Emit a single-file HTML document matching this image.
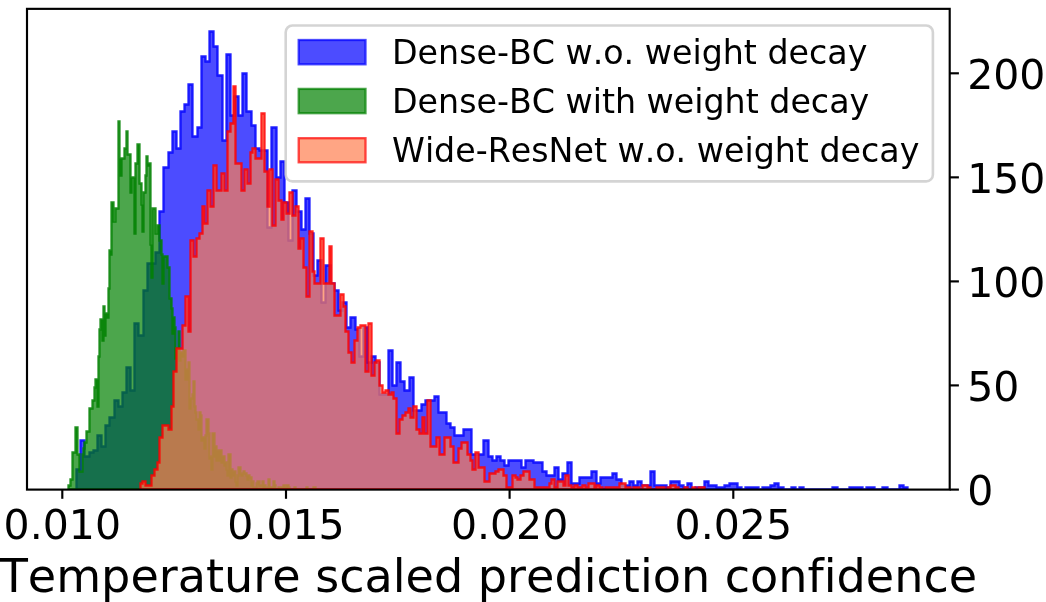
<!DOCTYPE html>
<html><head><meta charset="utf-8"><title>Temperature scaled prediction confidence</title>
<style>html,body{margin:0;padding:0;background:#fff}body{width:1046px;height:602px;overflow:hidden}</style>
</head><body>
<svg width="1046" height="602" viewBox="0 0 1046 602" style="display:block;font-kerning:none;font-variant-ligatures:none;font-feature-settings:&quot;liga&quot; 0, &quot;clig&quot; 0">
<rect width="1046" height="602" fill="#fff"/>
<defs><clipPath id="ax"><rect x="27.0" y="8.85" width="922.7" height="480.75"/></clipPath></defs>
<g clip-path="url(#ax)" stroke-linejoin="miter" stroke-width="2.31">
<path d="M76.50 489.50 L76.50 469.50 L80.50 469.50 L80.50 440.50 L84.50 440.50 L84.50 456.50 L89.50 456.50 L89.50 452.50 L93.50 452.50 L93.50 450.50 L97.50 450.50 L97.50 435.50 L101.50 435.50 L101.50 446.50 L105.50 446.50 L105.50 425.50 L109.50 425.50 L109.50 417.50 L114.50 417.50 L114.50 400.50 L118.50 400.50 L118.50 406.50 L122.50 406.50 L122.50 392.50 L126.50 392.50 L126.50 367.50 L130.50 367.50 L130.50 390.50 L134.50 390.50 L134.50 323.50 L138.50 323.50 L138.50 335.50 L143.50 335.50 L143.50 290.50 L147.50 290.50 L147.50 263.50 L151.50 263.50 L151.50 263.50 L155.50 263.50 L155.50 252.50 L159.50 252.50 L159.50 211.50 L163.50 211.50 L163.50 167.50 L168.50 167.50 L168.50 152.50 L172.50 152.50 L172.50 131.50 L176.50 131.50 L176.50 148.50 L180.50 148.50 L180.50 111.50 L184.50 111.50 L184.50 104.50 L188.50 104.50 L188.50 84.50 L192.50 84.50 L192.50 136.50 L197.50 136.50 L197.50 127.50 L201.50 127.50 L201.50 56.50 L205.50 56.50 L205.50 61.50 L209.50 61.50 L209.50 31.50 L213.50 31.50 L213.50 46.50 L217.50 46.50 L217.50 75.50 L222.50 75.50 L222.50 140.50 L226.50 140.50 L226.50 54.50 L230.50 54.50 L230.50 115.50 L234.50 115.50 L234.50 96.50 L238.50 96.50 L238.50 115.50 L242.50 115.50 L242.50 73.50 L246.50 73.50 L246.50 111.50 L251.50 111.50 L251.50 125.50 L255.50 125.50 L255.50 148.50 L259.50 148.50 L259.50 150.50 L263.50 150.50 L263.50 150.50 L267.50 150.50 L267.50 227.50 L271.50 227.50 L271.50 127.50 L276.50 127.50 L276.50 177.50 L280.50 177.50 L280.50 161.50 L284.50 161.50 L284.50 202.50 L288.50 202.50 L288.50 240.50 L292.50 240.50 L292.50 190.50 L296.50 190.50 L296.50 211.50 L301.50 211.50 L301.50 229.50 L305.50 229.50 L305.50 198.50 L309.50 198.50 L309.50 233.50 L313.50 233.50 L313.50 275.50 L317.50 275.50 L317.50 260.50 L321.50 260.50 L321.50 302.50 L325.50 302.50 L325.50 265.50 L330.50 265.50 L330.50 283.50 L334.50 283.50 L334.50 290.50 L338.50 290.50 L338.50 310.50 L342.50 310.50 L342.50 302.50 L346.50 302.50 L346.50 327.50 L350.50 327.50 L350.50 317.50 L355.50 317.50 L355.50 329.50 L359.50 329.50 L359.50 356.50 L363.50 356.50 L363.50 327.50 L367.50 327.50 L367.50 362.50 L371.50 362.50 L371.50 356.50 L375.50 356.50 L375.50 362.50 L379.50 362.50 L379.50 394.50 L384.50 394.50 L384.50 394.50 L388.50 394.50 L388.50 350.50 L392.50 350.50 L392.50 385.50 L396.50 385.50 L396.50 362.50 L400.50 362.50 L400.50 381.50 L404.50 381.50 L404.50 390.50 L409.50 390.50 L409.50 377.50 L413.50 377.50 L413.50 410.50 L417.50 410.50 L417.50 410.50 L421.50 410.50 L421.50 404.50 L425.50 404.50 L425.50 400.50 L429.50 400.50 L429.50 400.50 L434.50 400.50 L434.50 396.50 L438.50 396.50 L438.50 412.50 L442.50 412.50 L442.50 412.50 L446.50 412.50 L446.50 423.50 L450.50 423.50 L450.50 427.50 L454.50 427.50 L454.50 435.50 L458.50 435.50 L458.50 435.50 L463.50 435.50 L463.50 429.50 L467.50 429.50 L467.50 429.50 L471.50 429.50 L471.50 454.50 L475.50 454.50 L475.50 454.50 L479.50 454.50 L479.50 454.50 L483.50 454.50 L483.50 440.50 L488.50 440.50 L488.50 456.50 L492.50 456.50 L492.50 460.50 L496.50 460.50 L496.50 456.50 L500.50 456.50 L500.50 460.50 L504.50 460.50 L504.50 465.50 L508.50 465.50 L508.50 460.50 L512.50 460.50 L512.50 460.50 L517.50 460.50 L517.50 460.50 L521.50 460.50 L521.50 467.50 L525.50 467.50 L525.50 460.50 L529.50 460.50 L529.50 460.50 L533.50 460.50 L533.50 462.50 L537.50 462.50 L537.50 462.50 L542.50 462.50 L542.50 471.50 L546.50 471.50 L546.50 475.50 L550.50 475.50 L550.50 475.50 L554.50 475.50 L554.50 467.50 L558.50 467.50 L558.50 479.50 L562.50 479.50 L562.50 473.50 L567.50 473.50 L567.50 462.50 L571.50 462.50 L571.50 483.50 L575.50 483.50 L575.50 483.50 L579.50 483.50 L579.50 477.50 L583.50 477.50 L583.50 477.50 L587.50 477.50 L587.50 477.50 L591.50 477.50 L591.50 471.50 L596.50 471.50 L596.50 483.50 L600.50 483.50 L600.50 477.50 L604.50 477.50 L604.50 477.50 L608.50 477.50 L608.50 477.50 L612.50 477.50 L612.50 473.50 L616.50 473.50 L616.50 479.50 L621.50 479.50 L621.50 485.50 L625.50 485.50 L625.50 485.50 L629.50 485.50 L629.50 481.50 L633.50 481.50 L633.50 485.50 L637.50 485.50 L637.50 481.50 L641.50 481.50 L641.50 485.50 L645.50 485.50 L645.50 485.50 L650.50 485.50 L650.50 471.50 L654.50 471.50 L654.50 485.50 L658.50 485.50 L658.50 485.50 L662.50 485.50 L662.50 485.50 L666.50 485.50 L666.50 487.50 L670.50 487.50 L670.50 481.50 L675.50 481.50 L675.50 481.50 L679.50 481.50 L679.50 485.50 L683.50 485.50 L683.50 487.50 L687.50 487.50 L687.50 483.50 L691.50 483.50 L691.50 490.50 L695.50 490.50 L695.50 487.50 L700.50 487.50 L700.50 487.50 L704.50 487.50 L704.50 481.50 L708.50 481.50 L708.50 485.50 L712.50 485.50 L712.50 485.50 L716.50 485.50 L716.50 487.50 L720.50 487.50 L720.50 487.50 L724.50 487.50 L724.50 485.50 L729.50 485.50 L729.50 483.50 L733.50 483.50 L733.50 483.50 L737.50 483.50 L737.50 487.50 L741.50 487.50 L741.50 490.50 L745.50 490.50 L745.50 487.50 L749.50 487.50 L749.50 487.50 L754.50 487.50 L754.50 487.50 L758.50 487.50 L758.50 490.50 L762.50 490.50 L762.50 487.50 L766.50 487.50 L766.50 487.50 L770.50 487.50 L770.50 485.50 L774.50 485.50 L774.50 483.50 L778.50 483.50 L778.50 487.50 L783.50 487.50 L783.50 490.50 L787.50 490.50 L787.50 490.50 L791.50 490.50 L791.50 487.50 L795.50 487.50 L795.50 490.50 L799.50 490.50 L799.50 487.50 L803.50 487.50 L803.50 490.50 L808.50 490.50 L808.50 490.50 L812.50 490.50 L812.50 490.50 L816.50 490.50 L816.50 490.50 L820.50 490.50 L820.50 490.50 L824.50 490.50 L824.50 490.50 L828.50 490.50 L828.50 490.50 L832.50 490.50 L832.50 487.50 L837.50 487.50 L837.50 490.50 L841.50 490.50 L841.50 490.50 L845.50 490.50 L845.50 490.50 L849.50 490.50 L849.50 487.50 L853.50 487.50 L853.50 487.50 L857.50 487.50 L857.50 487.50 L862.50 487.50 L862.50 490.50 L866.50 490.50 L866.50 487.50 L870.50 487.50 L870.50 487.50 L874.50 487.50 L874.50 490.50 L878.50 490.50 L878.50 490.50 L882.50 490.50 L882.50 487.50 L887.50 487.50 L887.50 490.50 L891.50 490.50 L891.50 490.50 L895.50 490.50 L895.50 490.50 L899.50 490.50 L899.50 485.50 L903.50 485.50 L903.50 487.50 L907.50 487.50 L907.50 489.50 Z" fill="#0000ff" fill-opacity="0.7" stroke="#0000ff" stroke-opacity="0.85"/>
<path d="M68.50 489.50 L68.50 485.50 L70.50 485.50 L70.50 479.50 L71.50 479.50 L71.50 479.50 L72.50 479.50 L72.50 452.50 L73.50 452.50 L73.50 452.50 L75.50 452.50 L75.50 427.50 L76.50 427.50 L76.50 427.50 L77.50 427.50 L77.50 454.50 L78.50 454.50 L78.50 454.50 L79.50 454.50 L79.50 471.50 L81.50 471.50 L81.50 471.50 L82.50 471.50 L82.50 454.50 L83.50 454.50 L83.50 448.50 L84.50 448.50 L84.50 442.50 L86.50 442.50 L86.50 431.50 L87.50 431.50 L87.50 431.50 L88.50 431.50 L88.50 431.50 L89.50 431.50 L89.50 408.50 L91.50 408.50 L91.50 408.50 L92.50 408.50 L92.50 400.50 L93.50 400.50 L93.50 400.50 L94.50 400.50 L94.50 387.50 L95.50 387.50 L95.50 379.50 L97.50 379.50 L97.50 379.50 L98.50 379.50 L98.50 356.50 L99.50 356.50 L99.50 329.50 L100.50 329.50 L100.50 319.50 L102.50 319.50 L102.50 319.50 L103.50 319.50 L103.50 306.50 L104.50 306.50 L104.50 313.50 L105.50 313.50 L105.50 313.50 L107.50 313.50 L107.50 313.50 L108.50 313.50 L108.50 288.50 L109.50 288.50 L109.50 250.50 L110.50 250.50 L110.50 250.50 L111.50 250.50 L111.50 202.50 L113.50 202.50 L113.50 221.50 L114.50 221.50 L114.50 221.50 L115.50 221.50 L115.50 208.50 L116.50 208.50 L116.50 208.50 L118.50 208.50 L118.50 121.50 L119.50 121.50 L119.50 158.50 L120.50 158.50 L120.50 158.50 L121.50 158.50 L121.50 158.50 L123.50 158.50 L123.50 158.50 L124.50 158.50 L124.50 148.50 L125.50 148.50 L125.50 148.50 L126.50 148.50 L126.50 131.50 L127.50 131.50 L127.50 154.50 L129.50 154.50 L129.50 154.50 L130.50 154.50 L130.50 177.50 L131.50 177.50 L131.50 177.50 L132.50 177.50 L132.50 177.50 L134.50 177.50 L134.50 177.50 L135.50 177.50 L135.50 163.50 L136.50 163.50 L136.50 163.50 L137.50 163.50 L137.50 144.50 L139.50 144.50 L139.50 183.50 L140.50 183.50 L140.50 183.50 L141.50 183.50 L141.50 204.50 L142.50 204.50 L142.50 204.50 L143.50 204.50 L143.50 192.50 L145.50 192.50 L145.50 175.50 L146.50 175.50 L146.50 156.50 L147.50 156.50 L147.50 163.50 L148.50 163.50 L148.50 163.50 L150.50 163.50 L150.50 244.50 L151.50 244.50 L151.50 244.50 L152.50 244.50 L152.50 208.50 L153.50 208.50 L153.50 208.50 L155.50 208.50 L155.50 233.50 L156.50 233.50 L156.50 233.50 L157.50 233.50 L157.50 225.50 L158.50 225.50 L158.50 225.50 L159.50 225.50 L159.50 240.50 L161.50 240.50 L161.50 254.50 L162.50 254.50 L162.50 256.50 L163.50 256.50 L163.50 256.50 L164.50 256.50 L164.50 256.50 L166.50 256.50 L166.50 256.50 L167.50 256.50 L167.50 267.50 L168.50 267.50 L168.50 267.50 L169.50 267.50 L169.50 298.50 L171.50 298.50 L171.50 308.50 L172.50 308.50 L172.50 317.50 L173.50 317.50 L173.50 317.50 L174.50 317.50 L174.50 327.50 L175.50 327.50 L175.50 348.50 L177.50 348.50 L177.50 348.50 L178.50 348.50 L178.50 331.50 L179.50 331.50 L179.50 352.50 L180.50 352.50 L180.50 352.50 L182.50 352.50 L182.50 352.50 L183.50 352.50 L183.50 350.50 L184.50 350.50 L184.50 350.50 L185.50 350.50 L185.50 369.50 L187.50 369.50 L187.50 369.50 L188.50 369.50 L188.50 362.50 L189.50 362.50 L189.50 398.50 L190.50 398.50 L190.50 398.50 L192.50 398.50 L192.50 394.50 L193.50 394.50 L193.50 381.50 L194.50 381.50 L194.50 406.50 L195.50 406.50 L195.50 412.50 L196.50 412.50 L196.50 419.50 L198.50 419.50 L198.50 419.50 L199.50 419.50 L199.50 412.50 L200.50 412.50 L200.50 415.50 L201.50 415.50 L201.50 437.50 L203.50 437.50 L203.50 437.50 L204.50 437.50 L204.50 437.50 L205.50 437.50 L205.50 435.50 L206.50 435.50 L206.50 419.50 L208.50 419.50 L208.50 433.50 L209.50 433.50 L209.50 456.50 L210.50 456.50 L210.50 456.50 L211.50 456.50 L211.50 456.50 L212.50 456.50 L212.50 433.50 L214.50 433.50 L214.50 446.50 L215.50 446.50 L215.50 446.50 L216.50 446.50 L216.50 450.50 L217.50 450.50 L217.50 450.50 L219.50 450.50 L219.50 450.50 L220.50 450.50 L220.50 450.50 L221.50 450.50 L221.50 456.50 L222.50 456.50 L222.50 456.50 L224.50 456.50 L224.50 462.50 L225.50 462.50 L225.50 462.50 L226.50 462.50 L226.50 469.50 L227.50 469.50 L227.50 469.50 L228.50 469.50 L228.50 454.50 L230.50 454.50 L230.50 469.50 L231.50 469.50 L231.50 469.50 L232.50 469.50 L232.50 471.50 L233.50 471.50 L233.50 471.50 L235.50 471.50 L235.50 481.50 L236.50 481.50 L236.50 481.50 L237.50 481.50 L237.50 475.50 L238.50 475.50 L238.50 467.50 L240.50 467.50 L240.50 473.50 L241.50 473.50 L241.50 473.50 L242.50 473.50 L242.50 473.50 L243.50 473.50 L243.50 471.50 L244.50 471.50 L244.50 473.50 L246.50 473.50 L246.50 475.50 L247.50 475.50 L247.50 475.50 L248.50 475.50 L248.50 475.50 L249.50 475.50 L249.50 477.50 L251.50 477.50 L251.50 481.50 L252.50 481.50 L252.50 481.50 L253.50 481.50 L253.50 487.50 L254.50 487.50 L254.50 487.50 L256.50 487.50 L256.50 483.50 L257.50 483.50 L257.50 481.50 L258.50 481.50 L258.50 481.50 L259.50 481.50 L259.50 485.50 L260.50 485.50 L260.50 485.50 L262.50 485.50 L262.50 481.50 L263.50 481.50 L263.50 485.50 L264.50 485.50 L264.50 485.50 L265.50 485.50 L265.50 487.50 L267.50 487.50 L267.50 487.50 L268.50 487.50 L268.50 479.50 L269.50 479.50 L269.50 487.50 L270.50 487.50 L270.50 487.50 L272.50 487.50 L272.50 487.50 L273.50 487.50 L273.50 481.50 L274.50 481.50 L274.50 485.50 L275.50 485.50 L275.50 490.50 L276.50 490.50 L276.50 490.50 L278.50 490.50 L278.50 487.50 L279.50 487.50 L279.50 490.50 L280.50 490.50 L280.50 490.50 L281.50 490.50 L281.50 487.50 L283.50 487.50 L283.50 485.50 L284.50 485.50 L284.50 487.50 L285.50 487.50 L285.50 487.50 L286.50 487.50 L286.50 485.50 L288.50 485.50 L288.50 487.50 L289.50 487.50 L289.50 490.50 L290.50 490.50 L290.50 490.50 L291.50 490.50 L291.50 490.50 L292.50 490.50 L292.50 490.50 L294.50 490.50 L294.50 487.50 L295.50 487.50 L295.50 490.50 L296.50 490.50 L296.50 490.50 L297.50 490.50 L297.50 490.50 L299.50 490.50 L299.50 490.50 L300.50 490.50 L300.50 490.50 L301.50 490.50 L301.50 490.50 L302.50 490.50 L302.50 490.50 L304.50 490.50 L304.50 490.50 L305.50 490.50 L305.50 490.50 L306.50 490.50 L306.50 487.50 L307.50 487.50 L307.50 490.50 L308.50 490.50 L308.50 490.50 L310.50 490.50 L310.50 490.50 L311.50 490.50 L311.50 490.50 L312.50 490.50 L312.50 490.50 L313.50 490.50 L313.50 487.50 L315.50 487.50 L315.50 489.50 Z" fill="#008000" fill-opacity="0.7" stroke="none"/>
<path d="M68.50 489.50 L68.50 485.50 L70.50 485.50 L70.50 479.50 L71.50 479.50 L71.50 479.50 L72.50 479.50 L72.50 452.50 L73.50 452.50 L73.50 452.50 L75.50 452.50 L75.50 427.50 L76.50 427.50 L76.50 427.50 L77.50 427.50 L77.50 454.50 L78.50 454.50 L78.50 454.50 L79.50 454.50 L79.50 471.50 L81.50 471.50 L81.50 471.50 L82.50 471.50 L82.50 454.50 L83.50 454.50 L83.50 448.50 L84.50 448.50 L84.50 442.50 L86.50 442.50 L86.50 431.50 L87.50 431.50 L87.50 431.50 L88.50 431.50 L88.50 431.50 L89.50 431.50 L89.50 408.50 L91.50 408.50 L91.50 408.50 L92.50 408.50 L92.50 400.50 L93.50 400.50 L93.50 400.50 L94.50 400.50 L94.50 387.50 L95.50 387.50 L95.50 379.50 L97.50 379.50 L97.50 406.50 L98.50 406.50 L98.50 356.50 L99.50 356.50 L99.50 329.50 L100.50 329.50 L100.50 319.50 L102.50 319.50 L102.50 340.50 L103.50 340.50 L103.50 306.50 L104.50 306.50 L104.50 335.50 L105.50 335.50 L105.50 313.50 L107.50 313.50 L107.50 317.50 L108.50 317.50 L108.50 288.50 L109.50 288.50 L109.50 250.50 L110.50 250.50 L110.50 254.50 L111.50 254.50 L111.50 202.50 L113.50 202.50 L113.50 221.50 L114.50 221.50 L114.50 221.50 L115.50 221.50 L115.50 208.50 L116.50 208.50 L116.50 208.50 L118.50 208.50 L118.50 121.50 L119.50 121.50 L119.50 158.50 L120.50 158.50 L120.50 175.50 L121.50 175.50 L121.50 158.50 L123.50 158.50 L123.50 158.50 L124.50 158.50 L124.50 148.50 L125.50 148.50 L125.50 148.50 L126.50 148.50 L126.50 131.50 L127.50 131.50 L127.50 154.50 L129.50 154.50 L129.50 154.50 L130.50 154.50 L130.50 192.50 L131.50 192.50 L131.50 177.50 L132.50 177.50 L132.50 177.50 L134.50 177.50 L134.50 233.50 L135.50 233.50 L135.50 163.50 L136.50 163.50 L136.50 163.50 L137.50 163.50 L137.50 144.50 L139.50 144.50 L139.50 183.50 L140.50 183.50 L140.50 183.50 L141.50 183.50 L141.50 204.50 L142.50 204.50 L142.50 231.50 L143.50 231.50 L143.50 192.50 L145.50 192.50 L145.50 175.50 L146.50 175.50 L146.50 156.50 L147.50 156.50 L147.50 165.50 L148.50 165.50 L148.50 163.50 L150.50 163.50 L150.50 244.50 L151.50 244.50 L151.50 277.50 L152.50 277.50 L152.50 208.50 L153.50 208.50 L153.50 208.50 L155.50 208.50 L155.50 233.50 L156.50 233.50 L156.50 233.50 L157.50 233.50 L157.50 225.50 L158.50 225.50 L158.50 225.50 L159.50 225.50 L159.50 240.50 L161.50 240.50 L161.50 254.50 L162.50 254.50 L162.50 283.50 L163.50 283.50 L163.50 256.50 L164.50 256.50 L164.50 256.50 L166.50 256.50 L166.50 256.50 L167.50 256.50 L167.50 267.50 L168.50 267.50 L168.50 267.50 L169.50 267.50 L169.50 298.50 L171.50 298.50 L171.50 308.50 L172.50 308.50 L172.50 333.50 L173.50 333.50 L173.50 317.50 L174.50 317.50 L174.50 327.50 L175.50 327.50 L175.50 358.50 L177.50 358.50 L177.50 348.50 L178.50 348.50 L178.50 331.50 L179.50 331.50 L179.50 360.50 L180.50 360.50 L180.50 352.50 L182.50 352.50 L182.50 356.50 L183.50 356.50 L183.50 350.50 L184.50 350.50 L184.50 350.50 L185.50 350.50 L185.50 379.50 L187.50 379.50 L187.50 369.50 L188.50 369.50 L188.50 362.50 L189.50 362.50 L189.50 408.50 L190.50 408.50 L190.50 398.50 L192.50 398.50 L192.50 394.50 L193.50 394.50 L193.50 381.50 L194.50 381.50 L194.50 406.50 L195.50 406.50 L195.50 412.50 L196.50 412.50 L196.50 419.50 L198.50 419.50 L198.50 429.50 L199.50 429.50 L199.50 412.50 L200.50 412.50 L200.50 415.50 L201.50 415.50 L201.50 440.50 L203.50 440.50 L203.50 437.50 L204.50 437.50 L204.50 448.50 L205.50 448.50 L205.50 435.50 L206.50 435.50 L206.50 419.50 L208.50 419.50 L208.50 433.50 L209.50 433.50 L209.50 458.50 L210.50 458.50 L210.50 456.50 L211.50 456.50 L211.50 469.50 L212.50 469.50 L212.50 433.50 L214.50 433.50 L214.50 456.50 L215.50 456.50 L215.50 446.50 L216.50 446.50 L216.50 460.50 L217.50 460.50 L217.50 450.50 L219.50 450.50 L219.50 460.50 L220.50 460.50 L220.50 450.50 L221.50 450.50 L221.50 462.50 L222.50 462.50 L222.50 456.50 L224.50 456.50 L224.50 465.50 L225.50 465.50 L225.50 462.50 L226.50 462.50 L226.50 469.50 L227.50 469.50 L227.50 475.50 L228.50 475.50 L228.50 454.50 L230.50 454.50 L230.50 477.50 L231.50 477.50 L231.50 469.50 L232.50 469.50 L232.50 475.50 L233.50 475.50 L233.50 471.50 L235.50 471.50 L235.50 481.50 L236.50 481.50 L236.50 485.50 L237.50 485.50 L237.50 475.50 L238.50 475.50 L238.50 467.50 L240.50 467.50 L240.50 473.50 L241.50 473.50 L241.50 475.50 L242.50 475.50 L242.50 473.50 L243.50 473.50 L243.50 471.50 L244.50 471.50 L244.50 473.50 L246.50 473.50 L246.50 475.50 L247.50 475.50 L247.50 479.50 L248.50 479.50 L248.50 475.50 L249.50 475.50 L249.50 477.50 L251.50 477.50 L251.50 485.50 L252.50 485.50 L252.50 481.50 L253.50 481.50 L253.50 487.50 L254.50 487.50 L254.50 487.50 L256.50 487.50 L256.50 483.50 L257.50 483.50 L257.50 481.50 L258.50 481.50 L258.50 481.50 L259.50 481.50 L259.50 485.50 L260.50 485.50 L260.50 485.50 L262.50 485.50 L262.50 481.50 L263.50 481.50 L263.50 487.50 L264.50 487.50 L264.50 485.50 L265.50 485.50 L265.50 490.50 L267.50 490.50 L267.50 487.50 L268.50 487.50 L268.50 479.50 L269.50 479.50 L269.50 490.50 L270.50 490.50 L270.50 487.50 L272.50 487.50 L272.50 490.50 L273.50 490.50 L273.50 481.50 L274.50 481.50 L274.50 485.50 L275.50 485.50 L275.50 490.50 L276.50 490.50 L276.50 490.50 L278.50 490.50 L278.50 487.50 L279.50 487.50 L279.50 490.50 L280.50 490.50 L280.50 490.50 L281.50 490.50 L281.50 487.50 L283.50 487.50 L283.50 485.50 L284.50 485.50 L284.50 487.50 L285.50 487.50 L285.50 490.50 L286.50 490.50 L286.50 485.50 L288.50 485.50 L288.50 487.50 L289.50 487.50 L289.50 490.50 L290.50 490.50 L290.50 490.50 L291.50 490.50 L291.50 490.50 L292.50 490.50 L292.50 490.50 L294.50 490.50 L294.50 487.50 L295.50 487.50 L295.50 490.50 L296.50 490.50 L296.50 490.50 L297.50 490.50 L297.50 490.50 L299.50 490.50 L299.50 490.50 L300.50 490.50 L300.50 490.50 L301.50 490.50 L301.50 490.50 L302.50 490.50 L302.50 490.50 L304.50 490.50 L304.50 490.50 L305.50 490.50 L305.50 490.50 L306.50 490.50 L306.50 487.50 L307.50 487.50 L307.50 490.50 L308.50 490.50 L308.50 490.50 L310.50 490.50 L310.50 490.50 L311.50 490.50 L311.50 490.50 L312.50 490.50 L312.50 490.50 L313.50 490.50 L313.50 487.50 L315.50 487.50 L315.50 489.50 Z" fill="none" stroke="#008000" stroke-opacity="0.85"/>
<path d="M140.50 489.50 L140.50 483.50 L142.50 483.50 L142.50 481.50 L145.50 481.50 L145.50 485.50 L148.50 485.50 L148.50 485.50 L151.50 485.50 L151.50 475.50 L154.50 475.50 L154.50 469.50 L157.50 469.50 L157.50 462.50 L159.50 462.50 L159.50 437.50 L162.50 437.50 L162.50 425.50 L165.50 425.50 L165.50 425.50 L168.50 425.50 L168.50 429.50 L171.50 429.50 L171.50 406.50 L173.50 406.50 L173.50 371.50 L176.50 371.50 L176.50 348.50 L179.50 348.50 L179.50 348.50 L182.50 348.50 L182.50 325.50 L185.50 325.50 L185.50 296.50 L188.50 296.50 L188.50 331.50 L190.50 331.50 L190.50 240.50 L193.50 240.50 L193.50 256.50 L196.50 256.50 L196.50 238.50 L199.50 238.50 L199.50 233.50 L202.50 233.50 L202.50 206.50 L204.50 206.50 L204.50 223.50 L207.50 223.50 L207.50 190.50 L210.50 190.50 L210.50 206.50 L213.50 206.50 L213.50 165.50 L216.50 165.50 L216.50 190.50 L219.50 190.50 L219.50 190.50 L221.50 190.50 L221.50 173.50 L224.50 173.50 L224.50 190.50 L227.50 190.50 L227.50 131.50 L230.50 131.50 L230.50 123.50 L233.50 123.50 L233.50 86.50 L235.50 86.50 L235.50 163.50 L238.50 163.50 L238.50 163.50 L241.50 163.50 L241.50 190.50 L244.50 190.50 L244.50 169.50 L247.50 169.50 L247.50 183.50 L250.50 183.50 L250.50 152.50 L252.50 152.50 L252.50 148.50 L255.50 148.50 L255.50 158.50 L258.50 158.50 L258.50 158.50 L261.50 158.50 L261.50 113.50 L264.50 113.50 L264.50 171.50 L267.50 171.50 L267.50 206.50 L269.50 206.50 L269.50 169.50 L272.50 169.50 L272.50 225.50 L275.50 225.50 L275.50 179.50 L278.50 179.50 L278.50 200.50 L281.50 200.50 L281.50 219.50 L283.50 219.50 L283.50 202.50 L286.50 202.50 L286.50 213.50 L289.50 213.50 L289.50 192.50 L292.50 192.50 L292.50 215.50 L295.50 215.50 L295.50 206.50 L298.50 206.50 L298.50 248.50 L300.50 248.50 L300.50 238.50 L303.50 238.50 L303.50 267.50 L306.50 267.50 L306.50 296.50 L309.50 296.50 L309.50 231.50 L312.50 231.50 L312.50 271.50 L314.50 271.50 L314.50 283.50 L317.50 283.50 L317.50 283.50 L320.50 283.50 L320.50 238.50 L323.50 238.50 L323.50 283.50 L326.50 283.50 L326.50 283.50 L329.50 283.50 L329.50 246.50 L331.50 246.50 L331.50 283.50 L334.50 283.50 L334.50 315.50 L337.50 315.50 L337.50 315.50 L340.50 315.50 L340.50 294.50 L343.50 294.50 L343.50 306.50 L345.50 306.50 L345.50 331.50 L348.50 331.50 L348.50 352.50 L351.50 352.50 L351.50 362.50 L354.50 362.50 L354.50 340.50 L357.50 340.50 L357.50 327.50 L360.50 327.50 L360.50 325.50 L362.50 325.50 L362.50 325.50 L365.50 325.50 L365.50 371.50 L368.50 371.50 L368.50 323.50 L371.50 323.50 L371.50 375.50 L374.50 375.50 L374.50 362.50 L376.50 362.50 L376.50 360.50 L379.50 360.50 L379.50 385.50 L382.50 385.50 L382.50 392.50 L385.50 392.50 L385.50 390.50 L388.50 390.50 L388.50 394.50 L391.50 394.50 L391.50 392.50 L393.50 392.50 L393.50 398.50 L396.50 398.50 L396.50 433.50 L399.50 433.50 L399.50 419.50 L402.50 419.50 L402.50 415.50 L405.50 415.50 L405.50 412.50 L408.50 412.50 L408.50 408.50 L410.50 408.50 L410.50 417.50 L413.50 417.50 L413.50 406.50 L416.50 406.50 L416.50 429.50 L419.50 429.50 L419.50 433.50 L422.50 433.50 L422.50 417.50 L424.50 417.50 L424.50 433.50 L427.50 433.50 L427.50 400.50 L430.50 400.50 L430.50 446.50 L433.50 446.50 L433.50 446.50 L436.50 446.50 L436.50 437.50 L439.50 437.50 L439.50 454.50 L441.50 454.50 L441.50 454.50 L444.50 454.50 L444.50 437.50 L447.50 437.50 L447.50 437.50 L450.50 437.50 L450.50 446.50 L453.50 446.50 L453.50 462.50 L455.50 462.50 L455.50 462.50 L458.50 462.50 L458.50 448.50 L461.50 448.50 L461.50 442.50 L464.50 442.50 L464.50 442.50 L467.50 442.50 L467.50 454.50 L470.50 454.50 L470.50 460.50 L472.50 460.50 L472.50 469.50 L475.50 469.50 L475.50 452.50 L478.50 452.50 L478.50 467.50 L481.50 467.50 L481.50 467.50 L484.50 467.50 L484.50 481.50 L486.50 481.50 L486.50 481.50 L489.50 481.50 L489.50 473.50 L492.50 473.50 L492.50 473.50 L495.50 473.50 L495.50 471.50 L498.50 471.50 L498.50 469.50 L501.50 469.50 L501.50 469.50 L503.50 469.50 L503.50 475.50 L506.50 475.50 L506.50 487.50 L509.50 487.50 L509.50 487.50 L512.50 487.50 L512.50 475.50 L515.50 475.50 L515.50 477.50 L517.50 477.50 L517.50 479.50 L520.50 479.50 L520.50 475.50 L523.50 475.50 L523.50 471.50 L526.50 471.50 L526.50 471.50 L529.50 471.50 L529.50 479.50 L532.50 479.50 L532.50 479.50 L534.50 479.50 L534.50 487.50 L537.50 487.50 L537.50 487.50 L540.50 487.50 L540.50 487.50 L543.50 487.50 L543.50 487.50 L546.50 487.50 L546.50 487.50 L549.50 487.50 L549.50 483.50 L551.50 483.50 L551.50 479.50 L554.50 479.50 L554.50 487.50 L557.50 487.50 L557.50 481.50 L560.50 481.50 L560.50 481.50 L563.50 481.50 L563.50 485.50 L565.50 485.50 L565.50 475.50 L568.50 475.50 L568.50 485.50 L571.50 485.50 L571.50 487.50 L574.50 487.50 L574.50 485.50 L577.50 485.50 L577.50 487.50 L580.50 487.50 L580.50 487.50 L582.50 487.50 L582.50 485.50 L585.50 485.50 L585.50 487.50 L588.50 487.50 L588.50 483.50 L591.50 483.50 L591.50 483.50 L594.50 483.50 L594.50 487.50 L596.50 487.50 L596.50 485.50 L599.50 485.50 L599.50 487.50 L602.50 487.50 L602.50 490.50 L605.50 490.50 L605.50 487.50 L608.50 487.50 L608.50 487.50 L611.50 487.50 L611.50 487.50 L613.50 487.50 L613.50 487.50 L616.50 487.50 L616.50 487.50 L619.50 487.50 L619.50 483.50 L622.50 483.50 L622.50 483.50 L625.50 483.50 L625.50 487.50 L627.50 487.50 L627.50 487.50 L630.50 487.50 L630.50 490.50 L633.50 490.50 L633.50 487.50 L636.50 487.50 L636.50 487.50 L639.50 487.50 L639.50 490.50 L642.50 490.50 L642.50 485.50 L644.50 485.50 L644.50 485.50 L647.50 485.50 L647.50 487.50 L650.50 487.50 L650.50 490.50 L653.50 490.50 L653.50 490.50 L656.50 490.50 L656.50 487.50 L658.50 487.50 L658.50 487.50 L661.50 487.50 L661.50 487.50 L664.50 487.50 L664.50 490.50 L667.50 490.50 L667.50 487.50 L670.50 487.50 L670.50 485.50 L673.50 485.50 L673.50 485.50 L675.50 485.50 L675.50 487.50 L678.50 487.50 L678.50 490.50 L681.50 490.50 L681.50 490.50 L684.50 490.50 L684.50 487.50 L687.50 487.50 L687.50 490.50 L690.50 490.50 L690.50 490.50 L692.50 490.50 L692.50 487.50 L695.50 487.50 L695.50 490.50 L698.50 490.50 L698.50 487.50 L701.50 487.50 L701.50 487.50 L704.50 487.50 L704.50 489.50 Z" fill="#ff7f50" fill-opacity="0.7" stroke="#ff0000" stroke-opacity="0.85"/>
</g>
<rect x="27.0" y="8.85" width="922.7" height="480.75" fill="none" stroke="#000" stroke-width="2.15"/>
<line x1="62.3" y1="489.6" x2="62.3" y2="498.8" stroke="#000" stroke-width="2.15"/>
<text x="62.3" y="538.8" font-size="41" text-anchor="middle" font-family="'DejaVu Sans', 'Liberation Sans', sans-serif">0.010</text>
<line x1="286.0" y1="489.6" x2="286.0" y2="498.8" stroke="#000" stroke-width="2.15"/>
<text x="286.0" y="538.8" font-size="41" text-anchor="middle" font-family="'DejaVu Sans', 'Liberation Sans', sans-serif">0.015</text>
<line x1="509.6" y1="489.6" x2="509.6" y2="498.8" stroke="#000" stroke-width="2.15"/>
<text x="509.6" y="538.8" font-size="41" text-anchor="middle" font-family="'DejaVu Sans', 'Liberation Sans', sans-serif">0.020</text>
<line x1="733.3" y1="489.6" x2="733.3" y2="498.8" stroke="#000" stroke-width="2.15"/>
<text x="733.3" y="538.8" font-size="41" text-anchor="middle" font-family="'DejaVu Sans', 'Liberation Sans', sans-serif">0.025</text>
<line x1="949.7" y1="489.6" x2="958.9000000000001" y2="489.6" stroke="#000" stroke-width="2.15"/>
<text x="967.2" y="505.20000000000005" font-size="41" text-anchor="start" font-family="'DejaVu Sans', 'Liberation Sans', sans-serif">0</text>
<line x1="949.7" y1="385.4" x2="958.9000000000001" y2="385.4" stroke="#000" stroke-width="2.15"/>
<text x="967.2" y="401.0" font-size="41" text-anchor="start" font-family="'DejaVu Sans', 'Liberation Sans', sans-serif">50</text>
<line x1="949.7" y1="281.4" x2="958.9000000000001" y2="281.4" stroke="#000" stroke-width="2.15"/>
<text x="967.2" y="297.0" font-size="41" text-anchor="start" font-family="'DejaVu Sans', 'Liberation Sans', sans-serif">100</text>
<line x1="949.7" y1="177.35" x2="958.9000000000001" y2="177.35" stroke="#000" stroke-width="2.15"/>
<text x="967.2" y="192.95" font-size="41" text-anchor="start" font-family="'DejaVu Sans', 'Liberation Sans', sans-serif">150</text>
<line x1="949.7" y1="73.3" x2="958.9000000000001" y2="73.3" stroke="#000" stroke-width="2.15"/>
<text x="967.2" y="88.89999999999999" font-size="41" text-anchor="start" font-family="'DejaVu Sans', 'Liberation Sans', sans-serif">200</text>
<text x="488.4" y="592.3" font-size="46.1" text-anchor="middle" font-family="'DejaVu Sans', 'Liberation Sans', sans-serif">Temperature scaled prediction confidence</text>
<rect x="285.7" y="25.5" width="647.2" height="155.9" rx="6.7" ry="6.7" fill="#fff" fill-opacity="0.8" stroke="#ccc" stroke-opacity="0.85" stroke-width="2.6"/>
<rect x="298.7" y="40.0" width="66.8" height="24.299999999999997" fill="#0000ff" fill-opacity="0.7" stroke="#0000ff" stroke-opacity="0.7" stroke-width="2.31"/>
<text x="392.0" y="63.5" font-size="33.25" font-family="'DejaVu Sans', 'Liberation Sans', sans-serif">Dense-BC w.o. weight decay</text>
<rect x="298.7" y="88.9" width="66.8" height="24.299999999999997" fill="#008000" fill-opacity="0.7" stroke="#008000" stroke-opacity="0.7" stroke-width="2.31"/>
<text x="392.0" y="112.9" font-size="33.25" font-family="'DejaVu Sans', 'Liberation Sans', sans-serif">Dense-BC with weight decay</text>
<rect x="298.7" y="138.2" width="66.8" height="24.100000000000023" fill="#ff7f50" fill-opacity="0.7" stroke="#ff0000" stroke-opacity="0.7" stroke-width="2.31"/>
<text x="392.0" y="162.3" font-size="33.25" font-family="'DejaVu Sans', 'Liberation Sans', sans-serif">Wide-ResNet w.o. weight decay</text>
</svg>
</body></html>
